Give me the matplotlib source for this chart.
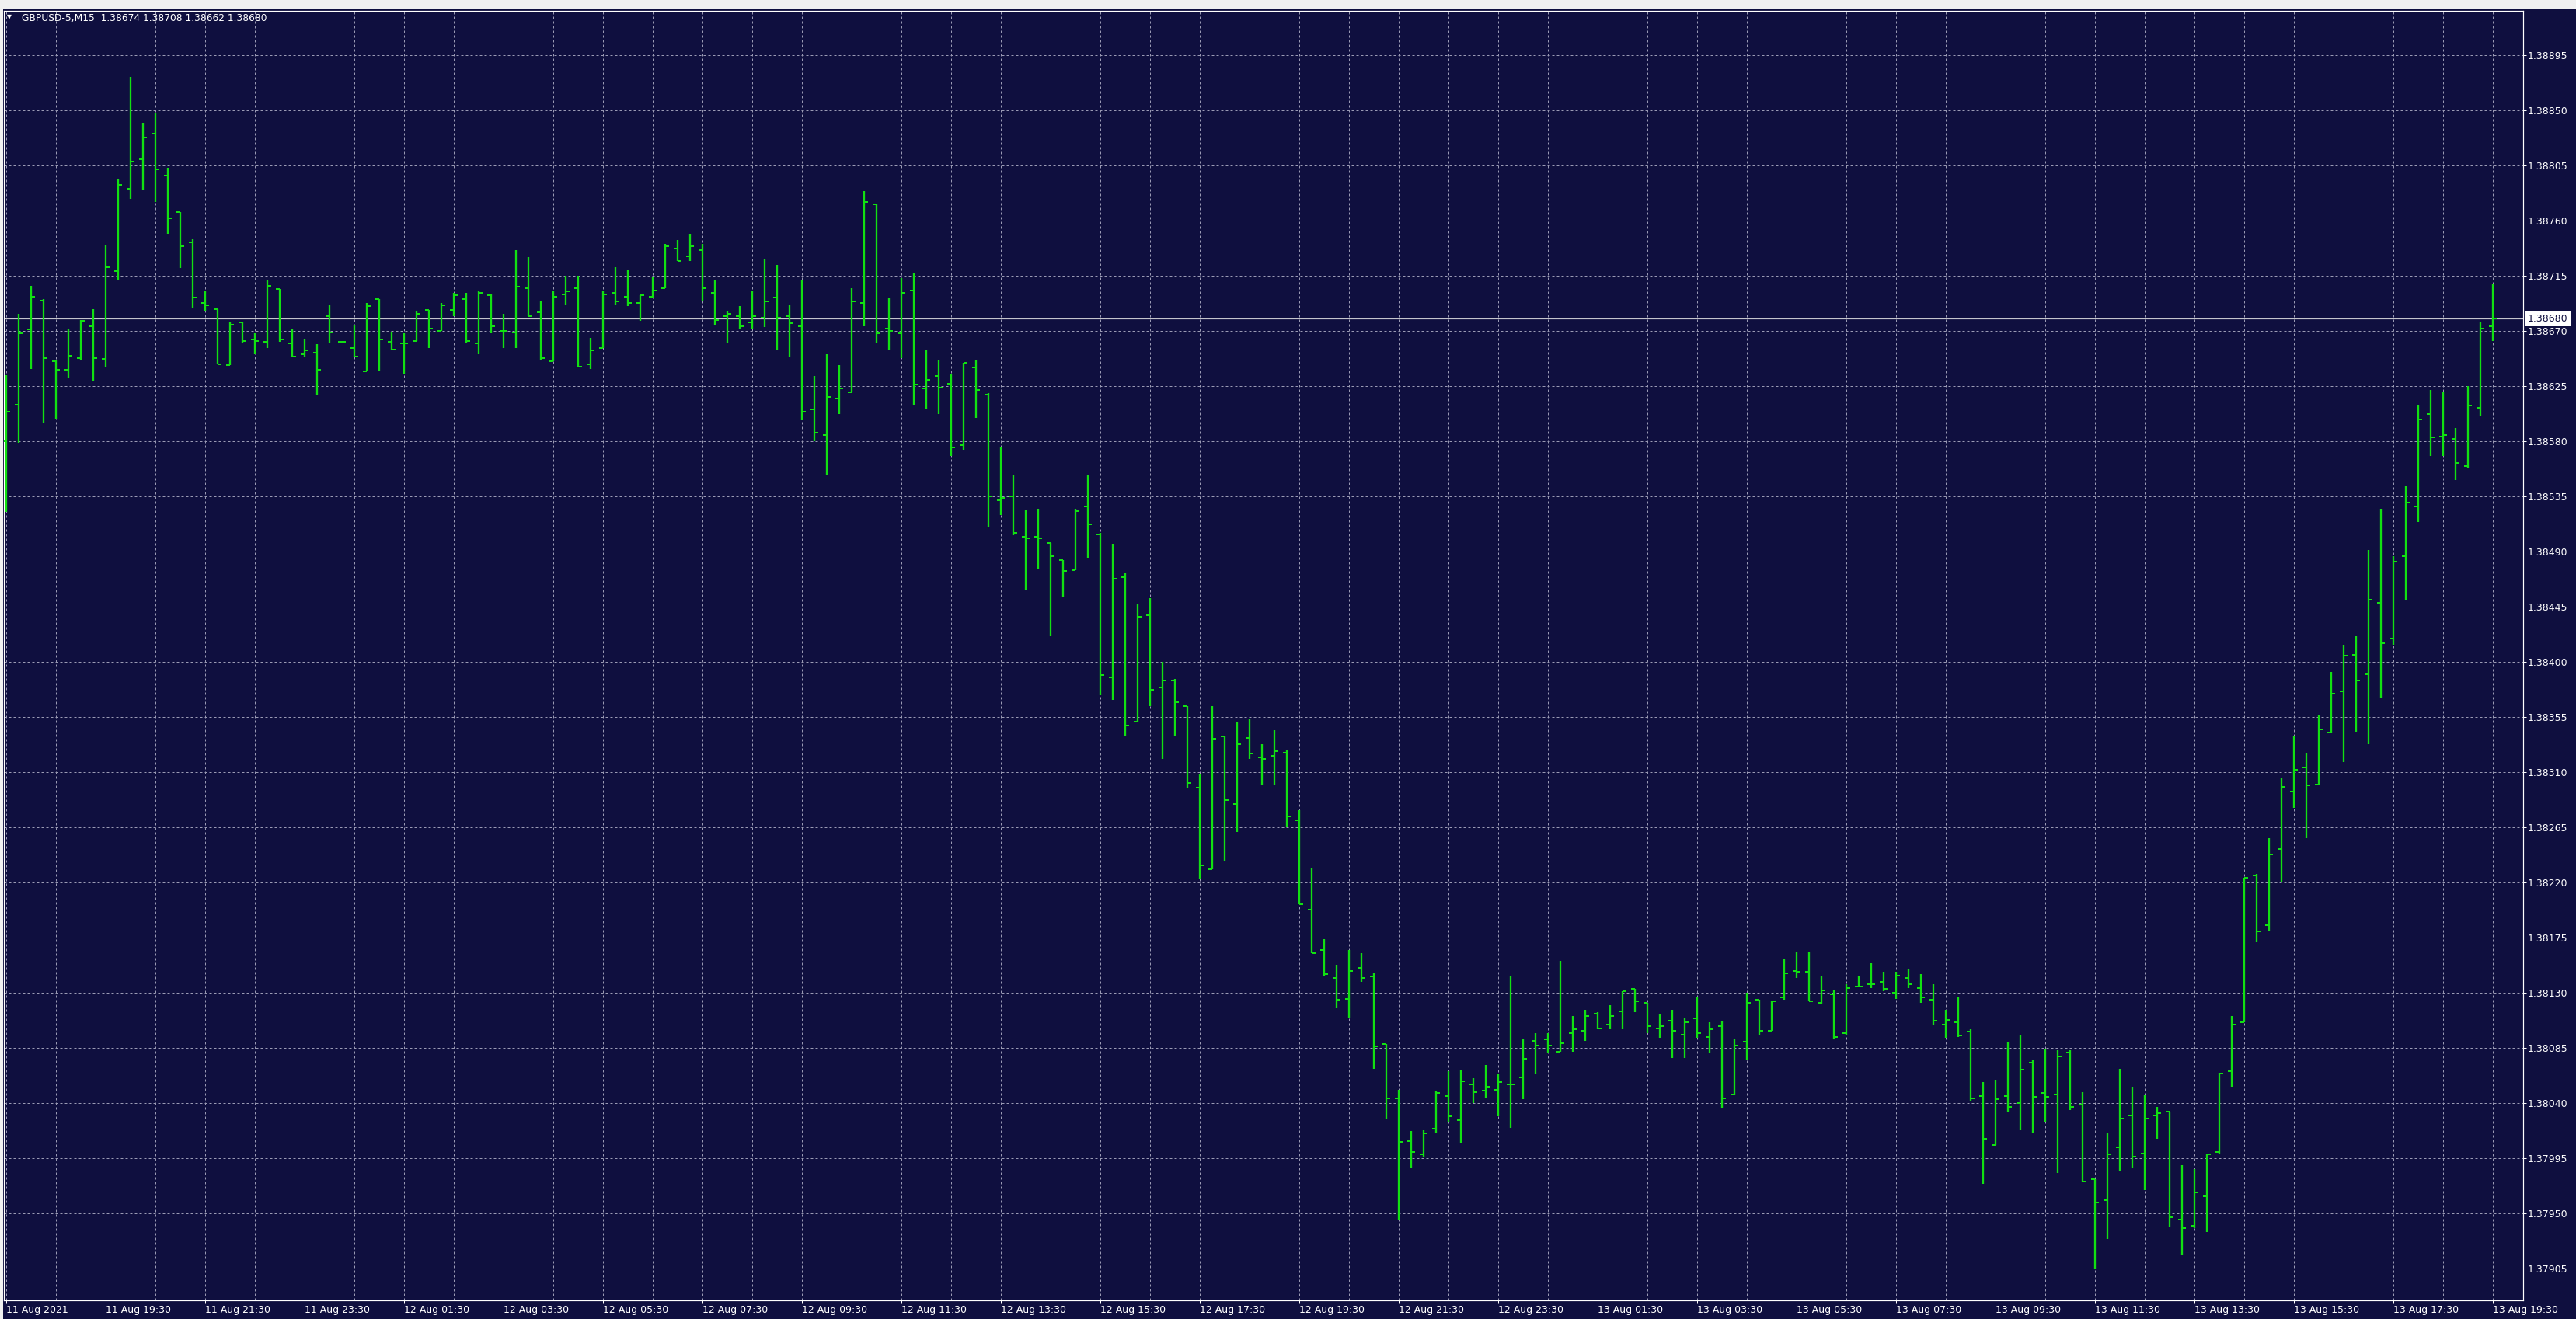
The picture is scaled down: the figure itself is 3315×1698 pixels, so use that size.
import matplotlib
matplotlib.use("Agg")
import matplotlib.pyplot as plt
from matplotlib.patches import Rectangle

# ---------------- data (GBPUSD M15) ----------------
opens = [1.38580, 1.38610, 1.38671, 1.38695, 1.38645, 1.38638, 1.38648, 1.38674, 1.38647, 1.38719,
         1.38786, 1.38810, 1.38831, 1.38797, 1.38767, 1.38742, 1.38693, 1.38688, 1.38642, 1.38677,
         1.38663, 1.38661, 1.38704, 1.38660, 1.38651, 1.38652, 1.38682, 1.38661, 1.38656, 1.38637,
         1.38696, 1.38661, 1.38660, 1.38662, 1.38687, 1.38670, 1.38687, 1.38696, 1.38660, 1.38699,
         1.38670, 1.38669, 1.38705, 1.38685, 1.38645, 1.38700, 1.38705, 1.38643, 1.38656, 1.38701,
         1.38698, 1.38693, 1.38698, 1.38705, 1.38737, 1.38731, 1.38736, 1.38701, 1.38682, 1.38682,
         1.38677, 1.38681, 1.38697, 1.38682, 1.38674, 1.38606, 1.38585, 1.38615, 1.38620, 1.38693,
         1.38773, 1.38672, 1.38668, 1.38703, 1.38623, 1.38633, 1.38627, 1.38577, 1.38640, 1.38618,
         1.38532, 1.38535, 1.38502, 1.38502, 1.38497, 1.38483, 1.38475, 1.38527, 1.38504, 1.38387,
         1.38469, 1.38351, 1.38438, 1.38379, 1.38385, 1.38364, 1.38297, 1.38231, 1.38339, 1.38284,
         1.38338, 1.38322, 1.38323, 1.38326, 1.38271, 1.38198, 1.38165, 1.38142, 1.38125, 1.38150,
         1.38143, 1.38088, 1.38044, 1.38009, 1.37998, 1.38019, 1.38046, 1.38026, 1.38055, 1.38050,
         1.38051, 1.38055, 1.38061, 1.38091, 1.38092, 1.38082, 1.38097, 1.38099, 1.38113, 1.38104,
         1.38115, 1.38133, 1.38122, 1.38101, 1.38107, 1.38096, 1.38109, 1.38094, 1.38103, 1.38047,
         1.38090, 1.38124, 1.38099, 1.38126, 1.38148, 1.38147, 1.38122, 1.38129, 1.38097, 1.38135,
         1.38137, 1.38139, 1.38130, 1.38142, 1.38134, 1.38124, 1.38104, 1.38106, 1.38098, 1.38046,
         1.38006, 1.38046, 1.38040, 1.38073, 1.38048, 1.38047, 1.38081, 1.38039, 1.37978, 1.37961,
         1.38004, 1.38030, 1.37999, 1.38030, 1.38033, 1.37945, 1.37940, 1.37964, 1.38000, 1.38066,
         1.38106, 1.38226, 1.38185, 1.38247, 1.38294, 1.38314, 1.38300, 1.38342, 1.38376, 1.38406,
         1.38390, 1.38448, 1.38419, 1.38486, 1.38527, 1.38602, 1.38584, 1.38582, 1.38560, 1.38607,
         1.38674]
highs = [1.38634, 1.38684, 1.38707, 1.38696, 1.38646, 1.38672, 1.38679, 1.38688, 1.38740, 1.38794,
         1.38877, 1.38840, 1.38848, 1.38803, 1.38767, 1.38745, 1.38702, 1.38688, 1.38677, 1.38677,
         1.38668, 1.38712, 1.38704, 1.38671, 1.38663, 1.38659, 1.38691, 1.38662, 1.38675, 1.38693,
         1.38696, 1.38669, 1.38668, 1.38686, 1.38687, 1.38693, 1.38701, 1.38701, 1.38702, 1.38700,
         1.38684, 1.38736, 1.38730, 1.38695, 1.38703, 1.38715, 1.38715, 1.38664, 1.38703, 1.38722,
         1.38720, 1.38699, 1.38714, 1.38741, 1.38744, 1.38749, 1.38741, 1.38712, 1.38686, 1.38690,
         1.38703, 1.38729, 1.38724, 1.38691, 1.38711, 1.38633, 1.38651, 1.38642, 1.38705, 1.38784,
         1.38773, 1.38697, 1.38713, 1.38717, 1.38655, 1.38646, 1.38635, 1.38644, 1.38646, 1.38619,
         1.38575, 1.38553, 1.38524, 1.38525, 1.38497, 1.38483, 1.38525, 1.38552, 1.38505, 1.38496,
         1.38472, 1.38447, 1.38452, 1.38400, 1.38386, 1.38364, 1.38308, 1.38364, 1.38339, 1.38351,
         1.38353, 1.38333, 1.38344, 1.38328, 1.38279, 1.38232, 1.38174, 1.38153, 1.38165, 1.38162,
         1.38146, 1.38088, 1.38051, 1.38017, 1.38018, 1.38050, 1.38066, 1.38067, 1.38060, 1.38071,
         1.38064, 1.38144, 1.38092, 1.38097, 1.38097, 1.38156, 1.38111, 1.38116, 1.38114, 1.38120,
         1.38131, 1.38133, 1.38122, 1.38113, 1.38116, 1.38109, 1.38126, 1.38106, 1.38107, 1.38092,
         1.38130, 1.38124, 1.38123, 1.38158, 1.38163, 1.38163, 1.38144, 1.38132, 1.38137, 1.38144,
         1.38154, 1.38147, 1.38147, 1.38149, 1.38145, 1.38137, 1.38116, 1.38126, 1.38100, 1.38057,
         1.38059, 1.38090, 1.38096, 1.38075, 1.38084, 1.38083, 1.38083, 1.38049, 1.37978, 1.38015,
         1.38068, 1.38053, 1.38047, 1.38037, 1.38033, 1.37989, 1.37986, 1.37998, 1.38065, 1.38111,
         1.38224, 1.38227, 1.38256, 1.38305, 1.38339, 1.38325, 1.38356, 1.38392, 1.38414, 1.38421,
         1.38491, 1.38525, 1.38486, 1.38543, 1.38610, 1.38622, 1.38620, 1.38591, 1.38625, 1.38677,
         1.38708]
lows = [1.38522, 1.38579, 1.38639, 1.38595, 1.38598, 1.38632, 1.38646, 1.38629, 1.38640, 1.38712,
        1.38778, 1.38785, 1.38775, 1.38749, 1.38721, 1.38689, 1.38686, 1.38643, 1.38642, 1.38660,
        1.38651, 1.38656, 1.38661, 1.38649, 1.38649, 1.38618, 1.38660, 1.38660, 1.38649, 1.38637,
        1.38637, 1.38655, 1.38635, 1.38662, 1.38656, 1.38670, 1.38682, 1.38660, 1.38651, 1.38668,
        1.38656, 1.38656, 1.38682, 1.38646, 1.38645, 1.38691, 1.38640, 1.38639, 1.38656, 1.38691,
        1.38690, 1.38678, 1.38697, 1.38705, 1.38727, 1.38727, 1.38694, 1.38675, 1.38660, 1.38671,
        1.38671, 1.38673, 1.38654, 1.38649, 1.38597, 1.38580, 1.38552, 1.38602, 1.38620, 1.38674,
        1.38660, 1.38655, 1.38648, 1.38610, 1.38606, 1.38602, 1.38568, 1.38573, 1.38599, 1.38510,
        1.38520, 1.38503, 1.38458, 1.38476, 1.38421, 1.38453, 1.38475, 1.38485, 1.38373, 1.38369,
        1.38339, 1.38351, 1.38364, 1.38321, 1.38339, 1.38297, 1.38223, 1.38231, 1.38237, 1.38261,
        1.38321, 1.38300, 1.38299, 1.38265, 1.38202, 1.38162, 1.38143, 1.38118, 1.38110, 1.38139,
        1.38068, 1.38027, 1.37944, 1.37987, 1.37996, 1.38016, 1.38025, 1.38007, 1.38040, 1.38044,
        1.38029, 1.38020, 1.38043, 1.38064, 1.38081, 1.38082, 1.38082, 1.38091, 1.38100, 1.38100,
        1.38100, 1.38114, 1.38097, 1.38093, 1.38077, 1.38077, 1.38093, 1.38081, 1.38036, 1.38047,
        1.38075, 1.38095, 1.38099, 1.38124, 1.38142, 1.38123, 1.38121, 1.38092, 1.38095, 1.38135,
        1.38134, 1.38131, 1.38125, 1.38134, 1.38122, 1.38104, 1.38093, 1.38094, 1.38041, 1.37974,
        1.38006, 1.38033, 1.38018, 1.38016, 1.38024, 1.37983, 1.38034, 1.37976, 1.37905, 1.37929,
        1.37984, 1.37987, 1.37969, 1.38011, 1.37939, 1.37916, 1.37938, 1.37935, 1.37999, 1.38053,
        1.38106, 1.38171, 1.38181, 1.38220, 1.38281, 1.38256, 1.38300, 1.38342, 1.38318, 1.38343,
        1.38333, 1.38371, 1.38414, 1.38450, 1.38514, 1.38568, 1.38568, 1.38548, 1.38558, 1.38600,
        1.38662]
closes = [1.38604, 1.38668, 1.38698, 1.38648, 1.38638, 1.38650, 1.38678, 1.38648, 1.38722, 1.38789,
          1.38808, 1.38828, 1.38802, 1.38762, 1.38739, 1.38697, 1.38691, 1.38643, 1.38675, 1.38662,
          1.38662, 1.38707, 1.38663, 1.38649, 1.38654, 1.38638, 1.38669, 1.38661, 1.38649, 1.38690,
          1.38663, 1.38655, 1.38660, 1.38684, 1.38672, 1.38691, 1.38699, 1.38662, 1.38701, 1.38674,
          1.38670, 1.38706, 1.38682, 1.38648, 1.38698, 1.38702, 1.38641, 1.38654, 1.38700, 1.38694,
          1.38693, 1.38699, 1.38703, 1.38739, 1.38727, 1.38739, 1.38705, 1.38679, 1.38684, 1.38674,
          1.38682, 1.38694, 1.38681, 1.38676, 1.38604, 1.38587, 1.38616, 1.38623, 1.38694, 1.38775,
          1.38668, 1.38670, 1.38701, 1.38626, 1.38630, 1.38624, 1.38575, 1.38644, 1.38622, 1.38535,
          1.38534, 1.38505, 1.38501, 1.38501, 1.38486, 1.38474, 1.38523, 1.38512, 1.38389, 1.38468,
          1.38348, 1.38437, 1.38377, 1.38385, 1.38367, 1.38301, 1.38234, 1.38337, 1.38287, 1.38333,
          1.38325, 1.38321, 1.38327, 1.38274, 1.38202, 1.38162, 1.38145, 1.38124, 1.38148, 1.38142,
          1.38086, 1.38044, 1.38008, 1.38000, 1.38015, 1.38048, 1.38029, 1.38058, 1.38049, 1.38053,
          1.38057, 1.38055, 1.38076, 1.38087, 1.38087, 1.38089, 1.38100, 1.38111, 1.38101, 1.38111,
          1.38131, 1.38123, 1.38103, 1.38103, 1.38099, 1.38106, 1.38097, 1.38100, 1.38044, 1.38087,
          1.38122, 1.38099, 1.38123, 1.38146, 1.38147, 1.38123, 1.38132, 1.38094, 1.38134, 1.38135,
          1.38137, 1.38133, 1.38144, 1.38137, 1.38126, 1.38107, 1.38108, 1.38095, 1.38044, 1.38011,
          1.38043, 1.38037, 1.38067, 1.38045, 1.38045, 1.38078, 1.38037, 1.37976, 1.37959, 1.37998,
          1.38027, 1.37996, 1.38027, 1.38032, 1.37947, 1.37938, 1.37967, 1.37998, 1.38064, 1.38104,
          1.38224, 1.38180, 1.38243, 1.38298, 1.38312, 1.38299, 1.38345, 1.38374, 1.38405, 1.38385,
          1.38451, 1.38415, 1.38482, 1.38530, 1.38598, 1.38583, 1.38585, 1.38562, 1.38609, 1.38672,
          1.38680]

time_labels = ["11 Aug 2021", "11 Aug 19:30", "11 Aug 21:30", "11 Aug 23:30",
               "12 Aug 01:30", "12 Aug 03:30", "12 Aug 05:30", "12 Aug 07:30",
               "12 Aug 09:30", "12 Aug 11:30", "12 Aug 13:30", "12 Aug 15:30",
               "12 Aug 17:30", "12 Aug 19:30", "12 Aug 21:30", "12 Aug 23:30",
               "13 Aug 01:30", "13 Aug 03:30", "13 Aug 05:30", "13 Aug 07:30",
               "13 Aug 09:30", "13 Aug 11:30", "13 Aug 13:30", "13 Aug 15:30",
               "13 Aug 17:30", "13 Aug 19:30"]
price_ticks = [1.38895, 1.38850, 1.38805, 1.38760, 1.38715, 1.38670, 1.38625, 1.38580,
               1.38535, 1.38490, 1.38445, 1.38400, 1.38355, 1.38310, 1.38265, 1.38220,
               1.38175, 1.38130, 1.38085, 1.38040, 1.37995, 1.37950, 1.37905]
header = "GBPUSD-5,M15  1.38674 1.38708 1.38662 1.38680"
last_price = 1.38680

# ---------------- style ----------------
NAVY = "#0f0f3f"
GREEN = "#12e012"
GRID = "#9a9ab4"
PX = 0.72  # one pixel in points at dpi 100
plt.rcParams["font.family"] = ["DejaVu Sans"]
plt.rcParams["lines.scale_dashes"] = False

W, H = 3315, 1698
fig = plt.figure(figsize=(W / 100, H / 100), dpi=100)
fig.patch.set_facecolor("#f0f0f0")
fig.add_artist(Rectangle((4 / W, 0), 1 - 4 / W, (H - 11) / H, transform=fig.transFigure,
                         facecolor=NAVY, edgecolor="none", zorder=0))

ax = fig.add_axes([5 / W, 24 / H, 3242 / W, 1660 / H])
ax.set_facecolor(NAVY)

n = len(opens)
xs = list(range(n))
tick = 0.33
ax.vlines(xs, lows, highs, colors=GREEN, lw=2.3 * PX, zorder=3)
ax.hlines(opens, [x - tick for x in xs], xs, colors=GREEN, lw=2.0 * PX, zorder=3)
ax.hlines(closes, xs, [x + tick for x in xs], colors=GREEN, lw=2.0 * PX, zorder=3)

ax.axhline(last_price, color="#c4c4cc", lw=1.2 * PX, zorder=2)

ax.set_xlim(-0.1875, 202.4375)
ax.set_ylim(1.378790, 1.389311)

# grid
ax.set_axisbelow(True)
ax.set_yticks(price_ticks)
ax.set_yticklabels([f"{p:.5f}" for p in price_ticks])
ax.set_xticks(range(0, n, 8))
ax.set_xticklabels(time_labels)
ax.set_xticks(range(0, n, 4), minor=True)
dash = (0, (3 * PX, 3 * PX))
ax.grid(True, which="major", axis="y", color=GRID, lw=1 * PX, linestyle=dash)
ax.grid(True, which="both", axis="x", color=GRID, lw=1 * PX, linestyle=dash)

ax.yaxis.tick_right()
ax.tick_params(axis="y", which="major", colors="white", length=4 * PX, width=1 * PX,
               pad=2 * PX, labelsize=9)
ax.tick_params(axis="x", which="major", colors="white", length=4 * PX, width=1 * PX,
               pad=2 * PX, labelsize=9)
ax.tick_params(axis="x", which="minor", length=0)
for lab in ax.get_xticklabels():
    lab.set_horizontalalignment("left")

for s in ax.spines.values():
    s.set_color("white")
    s.set_linewidth(1.2 * PX)

# current price box
ax.text(1 + 6 / 3242, last_price, f"{last_price:.5f}", transform=ax.get_yaxis_transform(),
        ha="left", va="center", fontsize=9, color="#0f0f3f", zorder=6, clip_on=False,
        bbox=dict(boxstyle="square,pad=0.25", fc="white", ec="none"))

# header
fig.text(9 / W, 1 - 22 / H, "\u25BC", color="white", fontsize=5.5, ha="left", va="center")
fig.text(28 / W, 1 - 23 / H, header, color="white", fontsize=8.8, ha="left", va="center")

fig.savefig("out.png", dpi=100, facecolor=fig.get_facecolor())
